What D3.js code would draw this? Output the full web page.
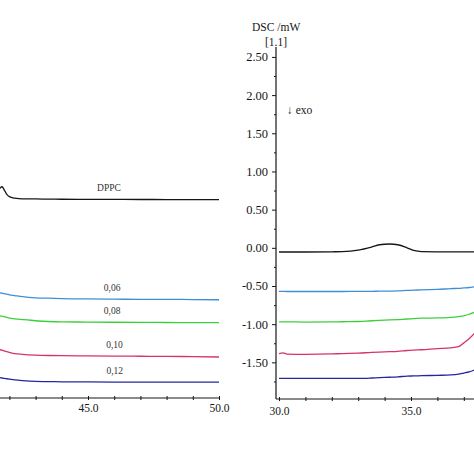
<!DOCTYPE html>
<html><head><meta charset="utf-8">
<script src="https://cdn.jsdelivr.net/npm/d3@7"></script>
<style>
html,body{margin:0;padding:0;background:#fff;}
svg{display:block;}
svg text{font-family:"Liberation Serif","DejaVu Serif","Times New Roman",serif !important;}
</style></head>
<body>
<svg id="c" width="474" height="474"></svg>
<script>
// ---------- data ----------
const leftT   = [41.64, 41.72, 41.80, 41.90, 42.00, 42.20, 42.50, 43.00, 43.50, 44.00, 45.00, 46.00, 47.00, 48.00, 49.00, 50.00];
const leftDPPC = [0.78, 0.80, 0.76, 0.70, 0.67, 0.65, 0.64, 0.64, 0.637, 0.636, 0.635, 0.634, 0.633, 0.632, 0.631, 0.630];
const left006  = [-0.59, -0.595, -0.60, -0.605, -0.615, -0.625, -0.64, -0.655, -0.66, -0.665, -0.67, -0.672, -0.675, -0.675, -0.678, -0.68];
const left008  = [-0.89, -0.895, -0.90, -0.91, -0.92, -0.93, -0.94, -0.955, -0.965, -0.97, -0.972, -0.975, -0.977, -0.978, -0.979, -0.98];
const left010  = [-1.335, -1.34, -1.35, -1.36, -1.37, -1.385, -1.395, -1.405, -1.41, -1.412, -1.415, -1.418, -1.42, -1.422, -1.425, -1.43];
const left012  = [-1.70, -1.705, -1.71, -1.715, -1.72, -1.73, -1.74, -1.75, -1.752, -1.755, -1.757, -1.758, -1.759, -1.76, -1.76, -1.76];

const rightT    = [30.0, 30.15, 30.3, 31.0, 32.0, 32.4, 33.0, 33.5, 33.8, 34.2, 34.5, 34.85, 35.1, 35.4, 36.0, 36.5, 36.8, 37.0, 37.2, 37.4];
const rightDPPC = [-0.055, -0.055, -0.055, -0.055, -0.052, -0.05, -0.03, 0.01, 0.04, 0.05, 0.04, 0.0, -0.035, -0.05, -0.052, -0.052, -0.053, -0.053, -0.053, -0.053];
const right006  = [-0.57, -0.57, -0.572, -0.572, -0.572, -0.572, -0.57, -0.57, -0.568, -0.567, -0.565, -0.558, -0.555, -0.55, -0.545, -0.535, -0.53, -0.525, -0.52, -0.51];
const right008  = [-0.97, -0.97, -0.97, -0.972, -0.97, -0.968, -0.965, -0.955, -0.95, -0.945, -0.94, -0.932, -0.928, -0.922, -0.918, -0.91, -0.90, -0.89, -0.87, -0.845];
const right010  = [-1.385, -1.375, -1.392, -1.395, -1.39, -1.385, -1.38, -1.37, -1.365, -1.36, -1.355, -1.345, -1.34, -1.335, -1.32, -1.31, -1.295, -1.245, -1.19, -1.12];
const right012  = [-1.71, -1.71, -1.71, -1.71, -1.71, -1.71, -1.71, -1.705, -1.70, -1.695, -1.69, -1.68, -1.678, -1.675, -1.67, -1.665, -1.655, -1.64, -1.625, -1.60];

const seriesNames = ["DPPC", "0,06", "0,08", "0,10", "0,12"];
const yMajorTicks = [-1.50, -1.00, -0.50, 0.00, 0.50, 1.00, 1.50, 2.00, 2.50];
const yMinorTicks = [-1.75, -1.25, -0.75, -0.25, 0.25, 0.75, 1.25, 1.75, 2.25];
const leftXTicks  = [42, 43, 44, 45, 46, 47, 48, 49, 50];
const rightXTicks = [30, 31, 32, 33, 34, 35, 36, 37];
const yTitle = "DSC /mW";
const ySubTitle = "[1.1]";
const exoLabel = "\u2193 exo";

// ---------- styles ----------
const colors = ["#161616", "#3f8fd4", "#3ccf3c", "#d6336e", "#23289e"];
const ink = "#161616";

const svg = d3.select("#c");
const defs = svg.append("defs");
defs.append("clipPath").attr("id","clipL").append("rect").attr("x",0).attr("y",0).attr("width",220).attr("height",474);
defs.append("clipPath").attr("id","clipR").append("rect").attr("x",276).attr("y",0).attr("width",198).attr("height",474);

const y = d3.scaleLinear().domain([-1.98, 2.63]).range([399, 47]);
const xL = d3.scaleLinear().domain([41.641, 50]).range([0, 219]);
const xR = d3.scaleLinear().domain([29.886, 37.386]).range([276, 474]);

const fmt = v => d3.format(".2f")(v).replace("\u2212", "-");
const fmtX = v => d3.format(".1f")(v);

// ---------- left panel ----------
const leftSeries = [leftDPPC, left006, left008, left010, left012];
const gL = svg.append("g").attr("clip-path","url(#clipL)");
const lineL = d3.line().x((d,i)=>xL(leftT[i])).y(d=>y(d)).curve(d3.curveMonotoneX);
leftSeries.forEach((s,k)=>{
  gL.append("path").attr("d", lineL(s)).attr("fill","none")
    .attr("stroke", colors[k]).attr("stroke-width", 1.3);
});
// labels
const labelT = [45.80, 45.92, 45.92, 46.01, 46.02];
leftSeries.forEach((s,k)=>{
  const v = s[d3.bisectLeft(leftT, 46.0)];
  svg.append("text").attr("x", xL(labelT[k])).attr("y", y(v) - 8.5)
    .attr("text-anchor","middle").attr("font-size", 9.5).attr("fill","#333")
    .text(seriesNames[k]);
});
// x axis left
const axL = svg.append("g").attr("transform","translate(0,398)")
  .call(d3.axisBottom(xL).tickValues(leftXTicks).tickSize(2).tickPadding(4)
        .tickFormat(v => v % 5 === 0 ? fmtX(v) : ""));
axL.select(".domain").attr("d","M0,0H219").attr("stroke",ink).attr("stroke-width",1.2);
axL.selectAll(".tick line").attr("y1",-2).attr("y2",2).attr("stroke",ink);
axL.selectAll(".tick text").attr("font-size",11.5).attr("fill",ink);

// ---------- right panel ----------
const rightSeries = [rightDPPC, right006, right008, right010, right012];
const gR = svg.append("g").attr("clip-path","url(#clipR)");
const lineR = d3.line().x((d,i)=>xR(rightT[i])).y(d=>y(d)).curve(d3.curveMonotoneX);
rightSeries.forEach((s,k)=>{
  gR.append("path").attr("d", lineR(s)).attr("fill","none")
    .attr("stroke", colors[k]).attr("stroke-width", 1.3);
});

// y axis
const axY = svg.append("g").attr("transform","translate(276,0)")
  .call(d3.axisLeft(y).tickValues(yMajorTicks).tickSize(4).tickPadding(4).tickFormat(fmt));
axY.select(".domain").attr("d","M0,47V399").attr("stroke",ink).attr("stroke-width",1.2);
axY.selectAll(".tick line").attr("stroke",ink);
axY.selectAll(".tick text").attr("font-size",12.5).attr("fill",ink);
const axYm = svg.append("g").attr("transform","translate(276,0)")
  .call(d3.axisLeft(y).tickValues(yMinorTicks).tickSize(2).tickFormat(""));
axYm.select(".domain").remove();
axYm.selectAll(".tick line").attr("stroke",ink);

// x axis right
const axR = svg.append("g").attr("transform","translate(0,399)")
  .call(d3.axisBottom(xR).tickValues(rightXTicks).tickSize(2).tickPadding(6)
        .tickFormat(v => v % 5 === 0 ? fmtX(v) : ""));
axR.select(".domain").attr("d","M276,0H474").attr("stroke",ink).attr("stroke-width",1.2);
axR.selectAll(".tick line").attr("y1",-2).attr("y2",2).attr("stroke",ink);
axR.selectAll(".tick text").attr("font-size",11.5).attr("fill",ink);

// titles
svg.append("text").attr("x",252).attr("y",31).attr("font-size",11.5).attr("fill",ink).text(yTitle);
svg.append("text").attr("x",265).attr("y",46).attr("font-size",11.5).attr("fill",ink).text(ySubTitle);
svg.append("text").attr("x",287).attr("y",114).attr("font-size",11.5).attr("fill",ink).text(exoLabel);
</script>
</body></html>
